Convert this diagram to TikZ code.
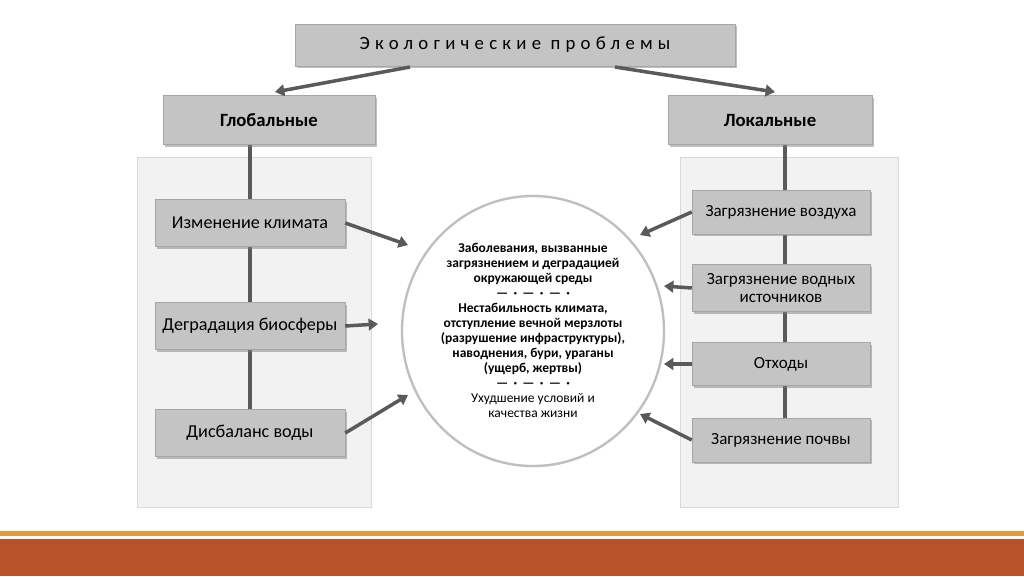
\documentclass[tikz,border=0pt]{standalone}
\usepackage{fontspec}
\setmainfont{Carlito}
\usetikzlibrary{shadows, positioning, arrows.meta, shapes.geometric}
\definecolor{boxgray}{HTML}{C4C4C4}
\definecolor{panelgray}{HTML}{F2F2F2}
\definecolor{linegray}{HTML}{5A5A5A}
\definecolor{bandred}{HTML}{B8522A}
\definecolor{bandorange}{HTML}{E39A3B}

\begin{document}
\begin{tikzpicture}[
    x=0.03cm, y=-0.03cm,
    box/.style={rectangle, draw=gray!70, fill=boxgray, drop shadow={shadow xshift=2pt, shadow yshift=-2pt, opacity=.5}, align=center, font=\fontsize{14.5}{15}\selectfont},
    panel/.style={draw=gray!30, fill=panelgray},
    link/.style={linegray, line width=3pt},
    arrow/.style={-{Triangle[length=8pt,width=10pt]}, linegray, line width=3pt}
]
\useasboundingbox (0,0) rectangle (1024,576);
\fill[white] (0,0) rectangle (1024,576);

% panels
\draw[panel] (137,157) rectangle (371,507);
\draw[panel] (680,157) rectangle (898,507);

% vertical links
\draw[link] (250,145) -- (250,410);
\draw[link] (785,145) -- (785,418);

% header boxes
\node[box, minimum width=440*0.03cm, minimum height=42*0.03cm, font=\fontsize{16}{17}\selectfont\addfontfeature{LetterSpace=28}] (eco) at (515,45) {Экологические проблемы};
\node[box, font=\fontsize{16}{17}\selectfont\bfseries, minimum width=212*0.03cm, minimum height=49*0.03cm] (global) at (269,120) {Глобальные};
\node[box, font=\fontsize{16}{17}\selectfont\bfseries, minimum width=204*0.03cm, minimum height=49*0.03cm] (local) at (770,120) {Локальные};

% left boxes
\node[box, minimum width=190*0.03cm, minimum height=47*0.03cm, font=\fontsize{15.5}{16}\selectfont] (climate) at (250,223) {Изменение климата};
\node[box, minimum width=190*0.03cm, minimum height=47*0.03cm, font=\fontsize{15.5}{16}\selectfont] (bio) at (250,326) {Деградация биосферы};
\node[box, minimum width=190*0.03cm, minimum height=47*0.03cm, font=\fontsize{15.5}{16}\selectfont] (water) at (250,433) {Дисбаланс воды};

% right boxes
\node[box, minimum width=178*0.03cm, minimum height=44*0.03cm] (air) at (781,212) {Загрязнение воздуха};
\node[box, minimum width=178*0.03cm, minimum height=47*0.03cm, inner sep=1pt] (src) at (781,288) {Загрязнение водных\\источников};
\node[box, minimum width=178*0.03cm, minimum height=43*0.03cm] (waste) at (781,364) {Отходы};
\node[box, minimum width=178*0.03cm, minimum height=44*0.03cm] (soil) at (781,440) {Загрязнение почвы};

% central ellipse
\node[ellipse, draw=gray!50, line width=2pt, fill=white, inner sep=0pt, minimum width=262*0.03cm, minimum height=270*0.03cm,
      drop shadow={shadow xshift=0pt, shadow yshift=-1pt, opacity=.3}] (effects) at (533,331) {};
\node[align=center, font=\fontsize{11.5}{12.8}\selectfont] (effecttext) at (533,330) {%
\textbf{Заболевания, вызванные}\\\textbf{загрязнением и деградацией}\\\textbf{окружающей среды}\\
\textbf{— \,·\, — \,·\, — \,·}\\
\textbf{Нестабильность климата,}\\\textbf{отступление вечной мерзлоты}\\\textbf{(разрушение инфраструктуры),}\\\textbf{наводнения, бури, ураганы}\\\textbf{(ущерб, жертвы)}\\
\textbf{— \,·\, — \,·\, — \,·}\\
Ухудшение условий и\\качества жизни};

% arrows
\draw[arrow] (410,67) -- (275,92);
\draw[arrow] (615,67) -- (775,92);
\draw[arrow] (climate.east) -- (408,245);
\draw[arrow] (bio.east) -- (378,324);
\draw[arrow] (water.east) -- (408,395);
\draw[arrow] (air.west) -- (640,235);
\draw[arrow] (src.west) -- (664,286);
\draw[arrow] (waste.west) -- (664,364);
\draw[arrow] (soil.west) -- (640,414);

% bottom bands
\fill[bandorange] (0,531) rectangle (1024,536);
\fill[bandred] (0,539) rectangle (1024,576);
\end{tikzpicture}
\end{document}
